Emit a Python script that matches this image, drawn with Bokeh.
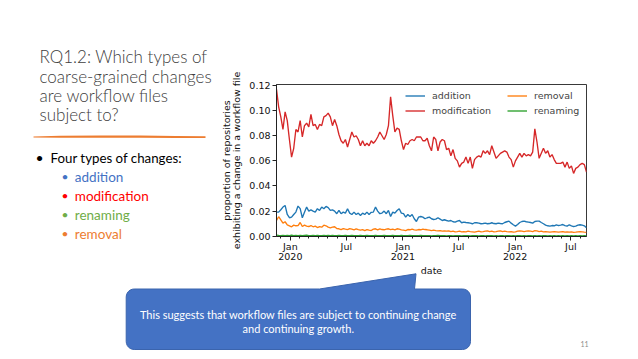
import numpy as np
import pandas as pd
from bokeh.plotting import figure
from bokeh.layouts import row, column
from bokeh.models import (Range1d, FixedTicker, NumeralTickFormatter, Legend, LegendItem, Label)
from bokeh.embed import file_html
from bokeh.resources import INLINE

# ---------------- data ----------------
start_date = "2019-11-17"

modification = [
    0.117, 0.103, 0.095, 0.085, 0.099, 0.092, 0.077, 0.063, 0.070, 0.085,
    0.083, 0.092, 0.079, 0.088, 0.090, 0.087, 0.097, 0.088, 0.089, 0.085,
    0.089, 0.088, 0.095, 0.096, 0.098, 0.095, 0.088, 0.093, 0.088, 0.081,
    0.076, 0.074, 0.077, 0.071, 0.077, 0.083, 0.079, 0.080, 0.077, 0.072,
    0.076, 0.072, 0.074, 0.072, 0.076, 0.074, 0.076, 0.079, 0.083, 0.080,
    0.077, 0.081, 0.088, 0.111, 0.096, 0.083, 0.086, 0.085, 0.076, 0.069,
    0.074, 0.073, 0.076, 0.077, 0.076, 0.079, 0.079, 0.079, 0.076, 0.076,
    0.078, 0.072, 0.068, 0.079, 0.077, 0.068, 0.075, 0.077, 0.076, 0.069,
    0.070, 0.064, 0.069, 0.062, 0.060, 0.055, 0.058, 0.059, 0.063, 0.058,
    0.063, 0.054, 0.061, 0.063, 0.064, 0.063, 0.068, 0.066, 0.068, 0.065,
    0.072, 0.067, 0.062, 0.064, 0.066, 0.067, 0.068, 0.067, 0.063, 0.061,
    0.055, 0.060, 0.063, 0.066, 0.063, 0.066, 0.064, 0.065, 0.064, 0.067,
    0.0855, 0.075, 0.062, 0.066, 0.070, 0.066, 0.068, 0.063, 0.065, 0.061,
    0.058, 0.058, 0.058, 0.059, 0.055, 0.059, 0.054, 0.056, 0.050, 0.054,
    0.055, 0.057, 0.058, 0.057, 0.051,
]

addition = [
    0.0192, 0.0192, 0.0211, 0.0232, 0.0245, 0.0173, 0.0147, 0.0152, 0.0173, 0.0192,
    0.0240, 0.0219, 0.0147, 0.0190, 0.0232, 0.0200, 0.0210, 0.0200, 0.0192, 0.0219,
    0.0205, 0.0232, 0.0219, 0.0237, 0.0227, 0.0205, 0.0210, 0.0200, 0.0179, 0.0205,
    0.0179, 0.0192, 0.0184, 0.0219, 0.0184, 0.0173, 0.0192, 0.0173, 0.0184, 0.0165,
    0.0184, 0.0173, 0.0192, 0.0173, 0.0190, 0.0192, 0.0232, 0.0200, 0.0179, 0.0184,
    0.0200, 0.0179, 0.0205, 0.0157, 0.0192, 0.0184, 0.0205, 0.0219, 0.0184, 0.0179,
    0.0152, 0.0173, 0.0157, 0.0173, 0.0139, 0.0117, 0.0152, 0.0157, 0.0152, 0.0139,
    0.0147, 0.0152, 0.0139, 0.0133, 0.0136, 0.0147, 0.0136, 0.0125, 0.0131, 0.0125,
    0.0120, 0.0125, 0.0115, 0.0112, 0.0120, 0.0125, 0.0107, 0.0112, 0.0109, 0.0107,
    0.0104, 0.0099, 0.0107, 0.0107, 0.0104, 0.0099, 0.0101, 0.0104, 0.0099, 0.0101,
    0.0107, 0.0101, 0.0099, 0.0104, 0.0101, 0.0099, 0.0109, 0.0115, 0.0120, 0.0104,
    0.0091, 0.0080, 0.0093, 0.0109, 0.0117, 0.0120, 0.0115, 0.0112, 0.0109, 0.0104,
    0.0117, 0.0120, 0.0120, 0.0109, 0.0099, 0.0088, 0.0083, 0.0080, 0.0085, 0.0083,
    0.0091, 0.0085, 0.0088, 0.0093, 0.0085, 0.0080, 0.0091, 0.0083, 0.0077, 0.0080,
    0.0088, 0.0091, 0.0088, 0.0083, 0.0067,
]

removal = [
    0.0125, 0.0155, 0.0130, 0.0104, 0.0115, 0.0091, 0.0083, 0.0075, 0.0088, 0.0083,
    0.0085, 0.0109, 0.0077, 0.0088, 0.0080, 0.0077, 0.0085, 0.0075, 0.0080, 0.0069,
    0.0077, 0.0072, 0.0088, 0.0083, 0.0072, 0.0067, 0.0072, 0.0075, 0.0061, 0.0059,
    0.0053, 0.0061, 0.0056, 0.0053, 0.0061, 0.0056, 0.0051, 0.0059, 0.0053, 0.0048,
    0.0053, 0.0045, 0.0053, 0.0048, 0.0045, 0.0056, 0.0059, 0.0051, 0.0059, 0.0053,
    0.0051, 0.0056, 0.0059, 0.0053, 0.0056, 0.0051, 0.0059, 0.0056, 0.0051, 0.0048,
    0.0045, 0.0053, 0.0051, 0.0056, 0.0051, 0.0048, 0.0053, 0.0051, 0.0056, 0.0053,
    0.0051, 0.0048, 0.0045, 0.0048, 0.0045, 0.0043, 0.0045, 0.0040, 0.0043, 0.0040,
    0.0043, 0.0037, 0.0040, 0.0035, 0.0037, 0.0040, 0.0035, 0.0037, 0.0035, 0.0040,
    0.0037, 0.0035, 0.0032, 0.0037, 0.0040, 0.0035, 0.0037, 0.0040, 0.0043, 0.0037,
    0.0040, 0.0035, 0.0037, 0.0040, 0.0043, 0.0037, 0.0040, 0.0037, 0.0035, 0.0037,
    0.0032, 0.0035, 0.0040, 0.0043, 0.0040, 0.0037, 0.0040, 0.0043, 0.0040, 0.0037,
    0.0045, 0.0043, 0.0037, 0.0040, 0.0035, 0.0037, 0.0035, 0.0032, 0.0035, 0.0037,
    0.0035, 0.0032, 0.0035, 0.0037, 0.0032, 0.0035, 0.0032, 0.0035, 0.0030, 0.0032,
    0.0035, 0.0037, 0.0035, 0.0032, 0.0030,
]

renaming = [
    0.0009, 0.0006, 0.0005, 0.0007, 0.0004, 0.0006, 0.0005, 0.0008, 0.0004, 0.0006,
    0.0005, 0.0007, 0.0004, 0.0006, 0.0008, 0.0005, 0.0004, 0.0006, 0.0005, 0.0007,
    0.0004, 0.0005, 0.0006, 0.0004, 0.0007, 0.0005, 0.0006, 0.0004, 0.0005, 0.0006,
    0.0004, 0.0005, 0.0007, 0.0004, 0.0005, 0.0006, 0.0004, 0.0005, 0.0004, 0.0006,
    0.0005, 0.0004, 0.0006, 0.0005, 0.0004, 0.0005, 0.0007, 0.0004, 0.0005, 0.0004,
    0.0006, 0.0004, 0.0005, 0.0004, 0.0006, 0.0005, 0.0004, 0.0005, 0.0006, 0.0004,
    0.0005, 0.0004, 0.0006, 0.0004, 0.0005, 0.0004, 0.0005, 0.0006, 0.0004, 0.0005,
    0.0004, 0.0005, 0.0003, 0.0005, 0.0004, 0.0006, 0.0004, 0.0005, 0.0004, 0.0003,
    0.0005, 0.0004, 0.0003, 0.0005, 0.0004, 0.0005, 0.0003, 0.0004, 0.0005, 0.0004,
    0.0003, 0.0004, 0.0005, 0.0004, 0.0003, 0.0004, 0.0005, 0.0003, 0.0004, 0.0004,
    0.0005, 0.0003, 0.0004, 0.0003, 0.0005, 0.0004, 0.0003, 0.0004, 0.0004, 0.0003,
    0.0004, 0.0003, 0.0005, 0.0004, 0.0003, 0.0004, 0.0003, 0.0004, 0.0005, 0.0003,
    0.0004, 0.0003, 0.0004, 0.0003, 0.0004, 0.0005, 0.0003, 0.0004, 0.0003, 0.0004,
    0.0003, 0.0004, 0.0003, 0.0004, 0.0003, 0.0004, 0.0003, 0.0004, 0.0003, 0.0004,
    0.0003, 0.0004, 0.0003, 0.0004, 0.0003,
]

y_ticks = [0.0, 0.02, 0.04, 0.06, 0.08, 0.10, 0.12]
x_tick_dates = ["2020-01-01", "2020-07-01", "2021-01-01", "2021-07-01", "2022-01-01", "2022-07-01"]
x_tick_labels = ["Jan\n2020", "Jul", "Jan\n2021", "Jul", "Jan\n2022", "Jul"]
x_axis_title = "date"
y_axis_title = "proportion of repositories\nexhibiting a change in a workflow file"

series_names = ["addition", "modification", "removal", "renaming"]
series_colors = ["#1f77b4", "#d62728", "#ff7f0e", "#2ca02c"]

title_lines = ["RQ1.2: Which types of", "coarse-grained changes", "are workflow files", "subject to?"]
bullet_head = "Four types of changes:"
sub_bullets = ["addition", "modification", "renaming", "removal"]
sub_colors = ["#4472C4", "#FF0000", "#70AD47", "#ED7D31"]
callout_lines = ["This suggests that workflow files are subject to continuing change",
                 "and continuing growth."]
page_number = "11"

# ---------------- layout geometry (page pixels) ----------------
W, H = 638, 359
SPLIT_X = 214          # left text panel | chart
SPLIT_Y = 265          # top row | bottom strip (axis title + callout)
FRAME_L, FRAME_R, FRAME_T, FRAME_B = 276, 586, 84, 236

# ---------------- chart ----------------
dates = pd.date_range(start_date, periods=len(modification), freq="7D")
Y_MIN, Y_MAX = -0.00024, 0.1208

cw, ch = W - SPLIT_X, SPLIT_Y
p = figure(width=cw, height=ch, x_axis_type="datetime", output_backend="svg",
           toolbar_location=None, title=None,
           x_range=Range1d(dates[0], dates[-1]), y_range=Range1d(Y_MIN, Y_MAX),
           min_border_left=FRAME_L - SPLIT_X, min_border_right=W - FRAME_R,
           min_border_top=FRAME_T, min_border_bottom=SPLIT_Y - FRAME_B)
p.frame_align = False
p.background_fill_color = "white"
p.border_fill_color = "white"
p.xgrid.visible = False
p.ygrid.visible = False
p.outline_line_color = "#222222"
p.outline_line_width = 0.9

values = {"addition": addition, "modification": modification,
          "removal": removal, "renaming": renaming}
renderers = []
for name, col in zip(series_names, series_colors):
    r = p.line(dates, values[name], line_color=col, line_width=1.35)
    renderers.append(r)

chart_font = "DejaVu Sans"
fs = "9.5px"

major_ms = [int(pd.Timestamp(d).value // 10**6) for d in x_tick_dates]
minor_ms = [int(t.value // 10**6) for t in pd.date_range("2019-12-01", "2022-08-01", freq="MS")]
xa = p.xaxis[0]
xa.ticker = FixedTicker(ticks=major_ms, minor_ticks=minor_ms)
xa.major_label_overrides = {k: v for k, v in zip(major_ms, x_tick_labels)}
ya = p.yaxis[0]
ya.ticker = FixedTicker(ticks=y_ticks, minor_ticks=[])
ya.formatter = NumeralTickFormatter(format="0.00")
ya.axis_label = y_axis_title

for ax in (xa, ya):
    ax.axis_label_text_font = chart_font
    ax.axis_label_text_font_size = fs
    ax.axis_label_text_font_style = "normal"
    ax.axis_label_text_color = "#111111"
    ax.axis_label_text_line_height = 0.9
    ax.major_label_text_font = chart_font
    ax.major_label_text_font_size = fs
    ax.major_label_text_color = "#111111"
    ax.axis_line_color = "#222222"
    ax.major_tick_line_color = "#222222"
    ax.minor_tick_line_color = "#222222"
    ax.major_tick_in = 0
    ax.major_tick_out = 4
    ax.minor_tick_in = 0
    ax.minor_tick_out = 2
xa.major_label_text_line_height = 0.95
xa.major_label_standoff = 0
ya.major_label_standoff = 2
ya.axis_label_standoff = 4

legend = Legend(items=[LegendItem(label=n, renderers=[r]) for n, r in zip(series_names, renderers)],
                ncols=2, location=(127, 118))
legend.label_text_font = chart_font
legend.label_text_font_size = fs
legend.label_height = 11
legend.glyph_height = 11
legend.glyph_width = 20
legend.label_standoff = 7
legend.label_width = 71
legend.spacing = 4
legend.padding = 2
legend.margin = 0
legend.border_line_alpha = 0
legend.background_fill_alpha = 0
p.add_layout(legend)


# ---------------- slide panels (data coordinates = page pixels) ----------------
def panel(x_left, y_top, w, h):
    f = figure(width=w, height=h, x_range=Range1d(x_left, x_left + w),
               y_range=Range1d(y_top + h, y_top), output_backend="svg",
               toolbar_location=None, title=None, x_axis_location=None, y_axis_location=None,
               min_border=0, min_border_left=0, min_border_right=0,
               min_border_top=0, min_border_bottom=0)
    f.frame_align = False
    f.grid.visible = False
    f.outline_line_color = None
    f.background_fill_color = "white"
    f.border_fill_color = "white"
    return f


def lab(f, x, y, text, size, color, align="left", baseline="alphabetic", font="Lato"):
    f.add_layout(Label(x=x, y=y, text=text, text_font=font, text_font_size=size,
                       text_color=color, text_align=align, text_baseline=baseline))


left = panel(0, 0, SPLIT_X, SPLIT_Y)
title_base = [56.2, 76.0, 95.2, 114.0]
for t, yb in zip(title_lines, title_base):
    lab(left, 39, yb, t, "17px", "#404040", font="Lato Light, Lato")

top = [(33, 136.0), (60, 135.2), (100, 134.9), (140, 135.1), (175, 135.4), (205, 135.7)]
bot = [(205, 137.6), (175, 137.5), (140, 137.3), (100, 137.2), (60, 137.3), (33, 137.0)]
pts = top + bot
left.patch([a for a, b in pts], [b for a, b in pts], fill_color="#ED7D31", line_alpha=0)

lab(left, 39, 157, "•", "14px", "#000000", align="center", baseline="middle")
lab(left, 50, 157.8, bullet_head, "13.3px", "#000000")
sub_base = [180.5, 199.5, 218.5, 237.5]
for t, c, yb in zip(sub_bullets, sub_colors, sub_base):
    lab(left, 64.5, yb - 4.7, "•", "12px", c, align="center", baseline="middle")
    lab(left, 74.3, yb - 4.0, t, "13.5px", c)

bottom = panel(0, SPLIT_Y, W, H - SPLIT_Y)
# x-axis title of the chart (sits just under the chart's tick labels)
lab(bottom, (FRAME_L + FRAME_R) / 2, 269.5, x_axis_title, fs, "#111111",
    align="center", baseline="middle", font=chart_font)

L, R, T, B, rad = 125.7, 470.0, 288.5, 349.0, 8.0
ang = np.linspace(0, np.pi / 2, 7)
path = [(L + rad, T), (319.0, T), (415.5, 273.3), (414.0, T), (R - rad, T)]
path += [(R - rad + rad * np.sin(a), T + rad - rad * np.cos(a)) for a in ang]
path += [(R - rad + rad * np.cos(a), B - rad + rad * np.sin(a)) for a in ang]
path += [(L + rad - rad * np.sin(a), B - rad + rad * np.cos(a)) for a in ang]
path += [(L + rad - rad * np.cos(a), T + rad - rad * np.sin(a)) for a in ang]
bottom.patch([a for a, b in path], [b for a, b in path], fill_color="#4472C4",
             line_color="#3b64ad", line_width=1)
for t, yc in zip(callout_lines, [313.8, 327.5]):
    lab(bottom, 297.8, yc, t, "11px", "white", align="center", baseline="middle")
lab(bottom, 584, 343.5, page_number, "7px", "#8c8c8c", align="center", baseline="middle")

page = column(row(left, p, spacing=0), bottom, spacing=0)
open("out.html", "w").write(file_html(page, INLINE))
